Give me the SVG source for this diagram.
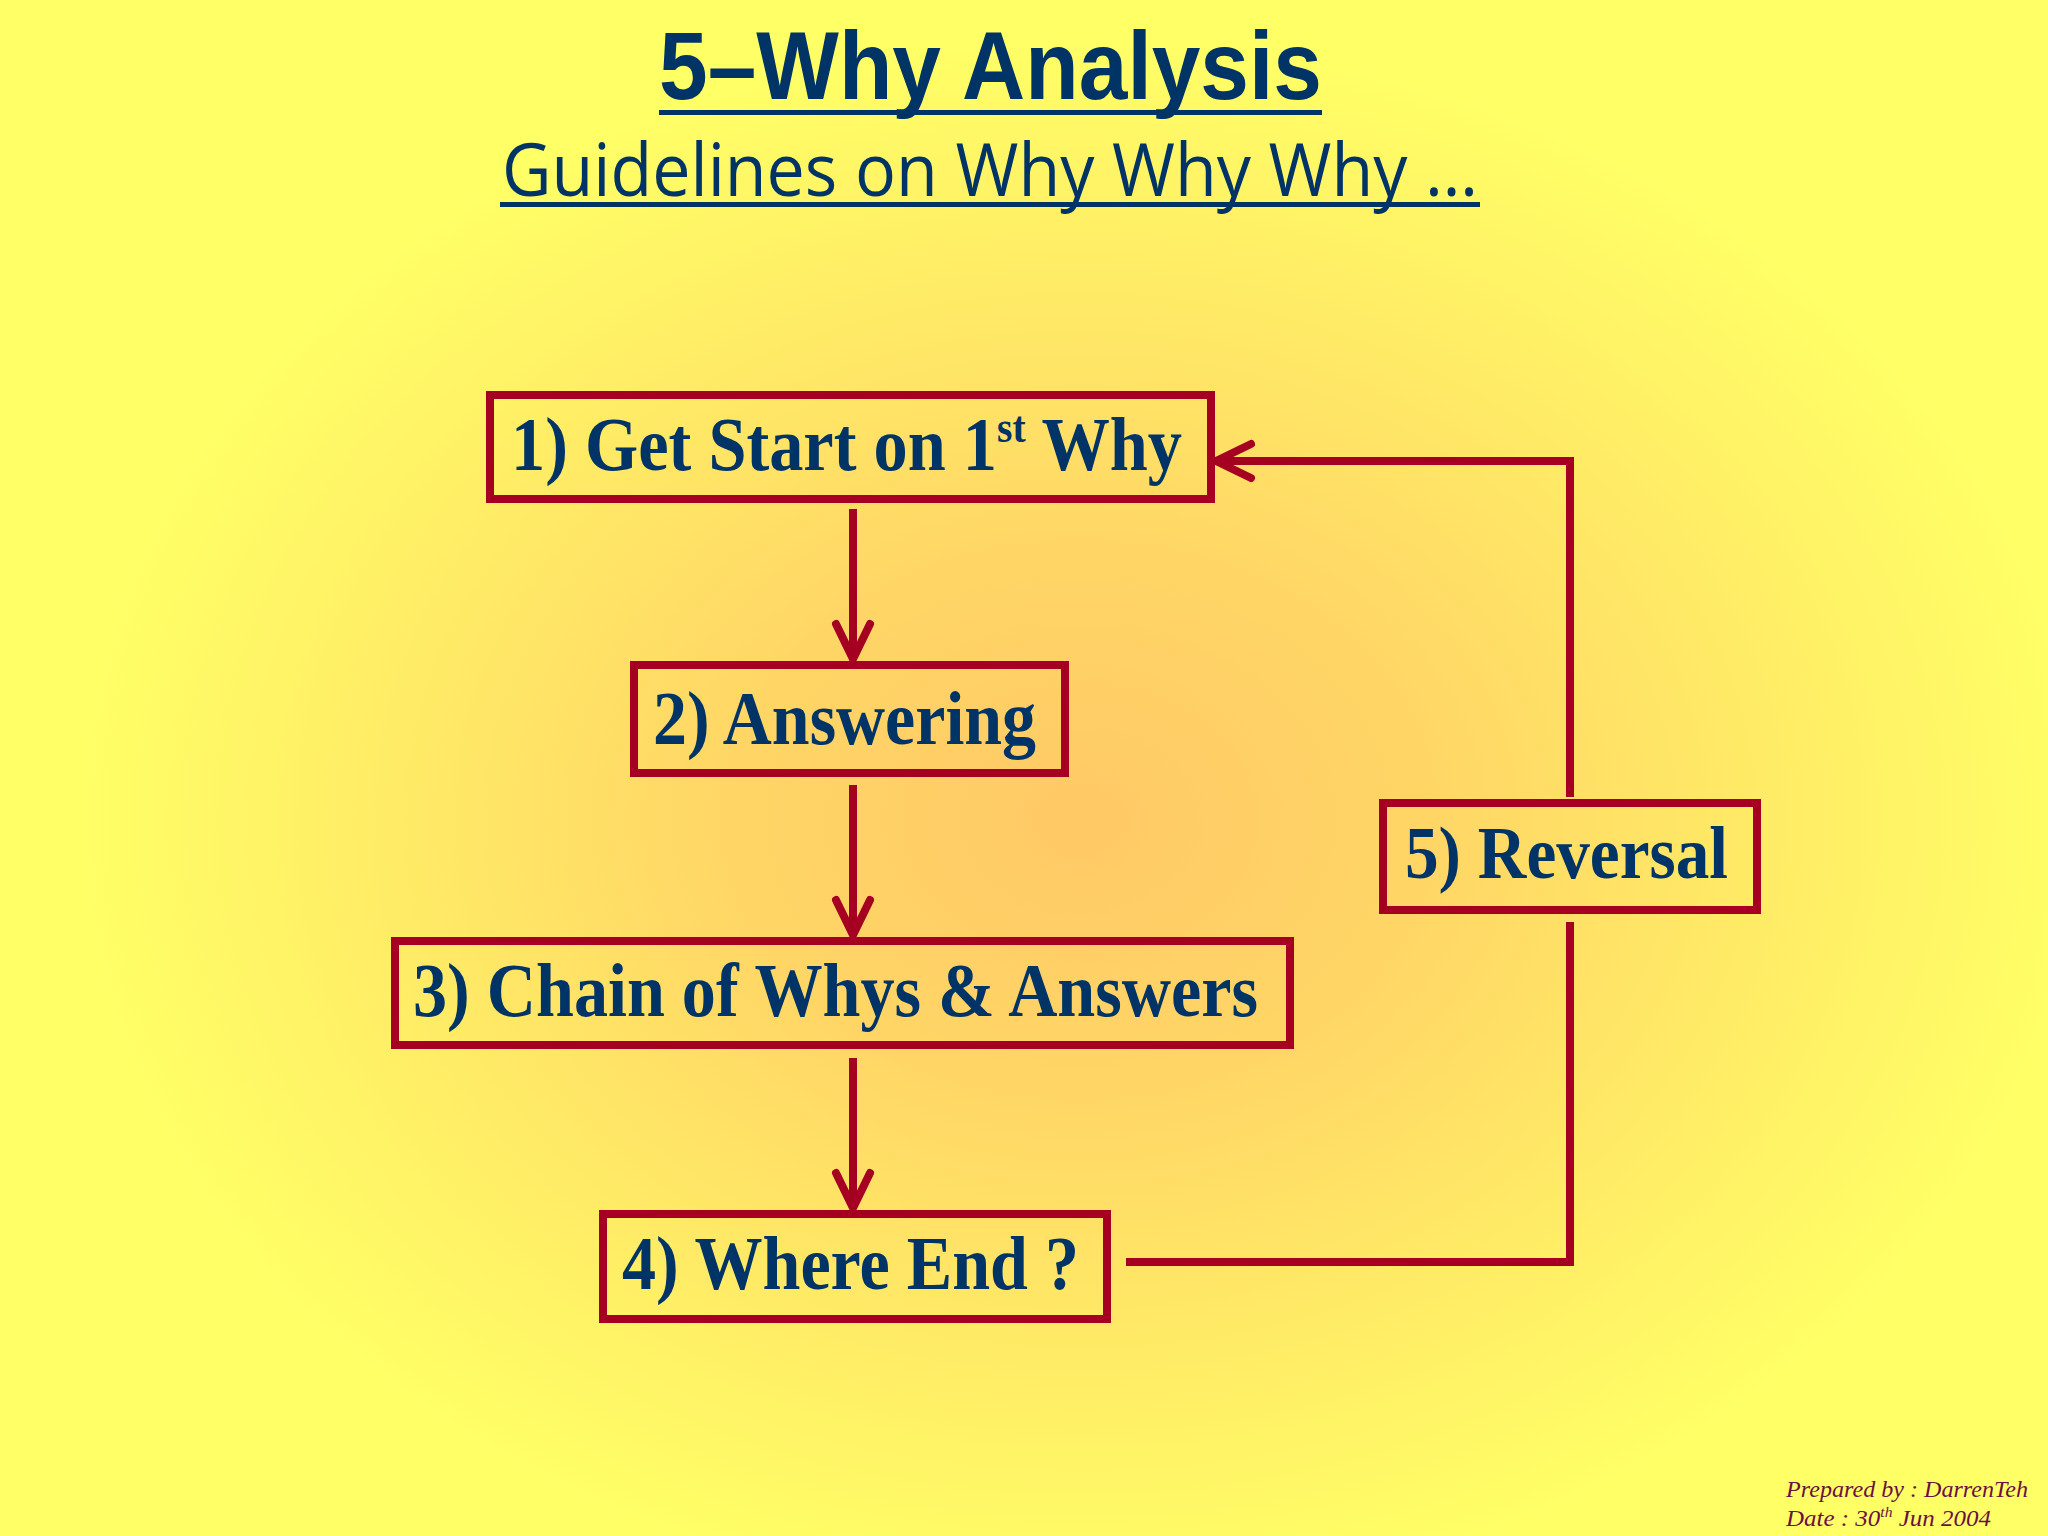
<svg xmlns="http://www.w3.org/2000/svg" width="2048" height="1536" viewBox="0 0 2048 1536">
  <defs>
    <radialGradient id="bg" gradientUnits="userSpaceOnUse" cx="1080" cy="820" r="1000" gradientTransform="translate(1080 820) scale(1 0.78) translate(-1080 -820)">
      <stop offset="0" stop-color="#FFC966"/>
      <stop offset="0.35" stop-color="#FFD666"/>
      <stop offset="0.7" stop-color="#FFEC66"/>
      <stop offset="1" stop-color="#FFFF66"/>
    </radialGradient>
    <marker id="arrow" markerUnits="userSpaceOnUse" viewBox="-40 -22 44 44" refX="0" refY="0" markerWidth="44" markerHeight="44" orient="auto" overflow="visible">
      <path d="M-35,-17 L0,0 L-35,17" fill="none" stroke="#A50021" stroke-width="8" stroke-linecap="round" stroke-linejoin="round"/>
    </marker>
    <style>
      .box { fill: none; stroke: #A50021; stroke-width: 8; }
      .lbl { font-family: "Liberation Serif", "Times New Roman", serif; font-weight: bold; fill: #003366; }
      .conn { fill: none; stroke: #A50021; stroke-width: 8; stroke-linejoin: miter; }
      .title { font-family: "Liberation Sans", Arial, sans-serif; font-weight: bold; fill: #003366; }
      .sub { font-family: "Open Sans", "DejaVu Sans", sans-serif; fill: #003366; }
      .foot { font-family: "Liberation Serif", serif; font-style: italic; fill: #6B1040; }
    </style>
  </defs>
  <rect width="2048" height="1536" fill="#FFFF66"/>
  <rect width="2048" height="1536" fill="url(#bg)"/>

  <g id="title">
    <text class="title" x="659" y="99" font-size="96" textLength="663" lengthAdjust="spacingAndGlyphs">5–Why Analysis</text>
    <rect x="659" y="110" width="663" height="5" fill="#003366"/>
    <text class="sub" x="502" y="196" font-size="74" textLength="976" lengthAdjust="spacingAndGlyphs">Guidelines on Why Why Why …</text>
    <rect x="500" y="202" width="980" height="5" fill="#003366"/>
  </g>

  <g id="connectors">
    <path class="conn" d="M853 509 L853 659" marker-end="url(#arrow)"/>
    <path class="conn" d="M853 785 L853 935" marker-end="url(#arrow)"/>
    <path class="conn" d="M853 1058 L853 1208" marker-end="url(#arrow)"/>
    <path class="conn" d="M1126 1262 L1570 1262 L1570 922"/>
    <path class="conn" d="M1570 797 L1570 461 L1216 461" marker-end="url(#arrow)"/>
  </g>

  <g id="node1">
    <rect class="box" x="490" y="395" width="721" height="104"/>
    <text class="lbl" x="511" y="470" font-size="76" textLength="671" lengthAdjust="spacingAndGlyphs">1) Get Start on 1<tspan font-size="44" dy="-28">st</tspan><tspan dy="28"> Why</tspan></text>
  </g>
  <g id="node2">
    <rect class="box" x="634" y="665" width="431" height="108"/>
    <text class="lbl" x="653" y="744" font-size="76" textLength="383" lengthAdjust="spacingAndGlyphs">2) Answering</text>
  </g>
  <g id="node3">
    <rect class="box" x="395" y="941" width="895" height="104"/>
    <text class="lbl" x="413" y="1016" font-size="76" textLength="845" lengthAdjust="spacingAndGlyphs">3) Chain of Whys &amp; Answers</text>
  </g>
  <g id="node4">
    <rect class="box" x="603" y="1214" width="504" height="105"/>
    <text class="lbl" x="622" y="1289" font-size="76" textLength="457" lengthAdjust="spacingAndGlyphs">4) Where End ?</text>
  </g>
  <g id="node5">
    <rect class="box" x="1383" y="803" width="374" height="107"/>
    <text class="lbl" x="1405" y="878" font-size="74" textLength="323" lengthAdjust="spacingAndGlyphs">5) Reversal</text>
  </g>

  <g id="footer">
    <text class="foot" x="1786" y="1497" font-size="24" textLength="242" lengthAdjust="spacingAndGlyphs">Prepared by : DarrenTeh</text>
    <text class="foot" x="1786" y="1526" font-size="24" textLength="205" lengthAdjust="spacingAndGlyphs">Date : 30<tspan font-size="15" dy="-9">th</tspan><tspan dy="9"> Jun 2004</tspan></text>
  </g>
</svg>
